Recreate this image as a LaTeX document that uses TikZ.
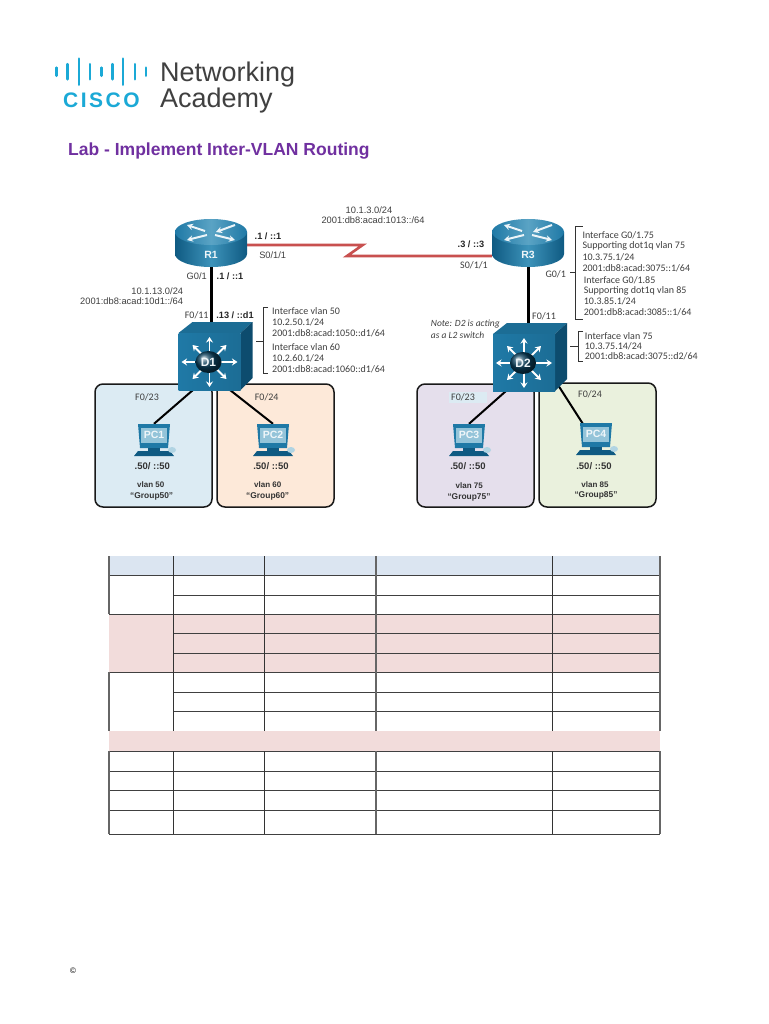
\documentclass[tikz,border=0pt]{standalone}
\usepackage{fontspec}
\usetikzlibrary{arrows.meta,shapes.geometric}
\setmainfont{Liberation Sans}
\newfontfamily\calfont{Carlito}
\newfontfamily\ciscofont{Liberation Sans}[LetterSpace=12]
\definecolor{tealb}{HTML}{1BA9D6}
\definecolor{titlep}{HTML}{7030A0}
\definecolor{txt}{HTML}{3F3F3F}
\definecolor{lnk}{HTML}{C8504F}
\definecolor{hdr}{HTML}{DBE5F1}
\definecolor{pnk}{HTML}{F2DCDB}
\definecolor{gl}{HTML}{666666}
\definecolor{boxA}{HTML}{DCEBF3}
\definecolor{boxB}{HTML}{FDE9D9}
\definecolor{boxC}{HTML}{E5DFEC}
\definecolor{boxD}{HTML}{EAF1DD}
\definecolor{ciscoD}{HTML}{0F5A82}
\definecolor{ciscoM}{HTML}{1F79A6}
\definecolor{ciscoL}{HTML}{3D93BA}
\tikzset{
  x=1pt,y=-1pt,
  note/.style={font=\calfont\fontsize{10}{10}\selectfont,text=txt,anchor=west,inner sep=0pt},
  small/.style={font=\fontsize{9.3}{10}\selectfont,text=txt,inner sep=0pt},
  port/.style={font=\calfont\fontsize{10}{10}\selectfont,text=txt,inner sep=0pt},
  addr/.style={font=\bfseries\fontsize{9.2}{10}\selectfont,text=black!85,inner sep=0pt},
  pcaddr/.style={font=\bfseries\fontsize{9.5}{10}\selectfont,text=black!80,inner sep=0pt},
  vl/.style={font=\bfseries\fontsize{8}{9}\selectfont,text=black!80,inner sep=0pt},
  grp/.style={font=\bfseries\fontsize{8.4}{9}\selectfont,text=black!80,inner sep=0pt},
  vbox/.style={draw=black!90,line width=1.5pt,rounded corners=8pt},
  wire/.style={draw=black,line width=2pt},
  uplink/.style={draw=black,line width=3pt},
  bracket/.style={draw=black!80,line width=.8pt},
  devlabel/.style={font=\bfseries\fontsize{10.5}{10}\selectfont,text=white!92!ciscoL,inner sep=0pt},
  rarrow/.style={white!90!ciscoL,line width=2pt,-{Stealth[length=6pt,width=6.5pt]}},
  sarrow/.style={white,line width=1.8pt,-{Stealth[length=5.5pt,width=7pt]}},
  rnode/.style={minimum width=72pt,minimum height=48pt,inner sep=0pt},
  snode/.style={minimum width=74pt,minimum height=68pt,inner sep=0pt},
  pcnode/.style={minimum width=42pt,minimum height=32pt,inner sep=0pt},
  router/.pic={
    \path[left color=ciscoD,right color=ciscoD,middle color=ciscoL]
      (-36,-11) -- (-36,11) arc[start angle=180,end angle=360,x radius=36,y radius=-13] -- (36,-11) -- cycle;
    \path[left color=ciscoM,right color=ciscoM,middle color=ciscoL!85!white]
      (0,-11) ellipse[x radius=36,y radius=13];
    \draw[rarrow] (-6,-12) -- (-24,-18);
    \draw[rarrow] (24,-18) -- (5,-11);
    \draw[rarrow] (-4,-8) -- (-24,-3);
    \draw[rarrow] (4,-8) -- (24,-3);
  },
  switchicon/.pic={
    \fill[ciscoM!90!black] (-31,-29) -- (-17,-40) -- (43,-40) -- (31,-29) -- cycle;
    \fill[ciscoD!85!black] (31,-29) -- (43,-40) -- (43,16) -- (31,28) -- cycle;
    \path[left color=ciscoM,right color=ciscoM!90!black] (-31,-29) rectangle (31,28);
    \foreach \a/\r in {0/28,45/24,90/25,135/24,180/28,225/24,270/25,315/24}{
      \draw[sarrow] (\a:10) -- (\a:\r);
    }
    \shade[ball color=ciscoD!70!black] (-1,0) ellipse[x radius=13,y radius=11];
  },
  pcicon/.pic={
    \fill[ciscoM] (-16,-16) -- (16,-16) -- (14,8) -- (-14,8) -- cycle;
    \fill[ciscoL!55!white] (-13,-12) rectangle (13,3);
    \fill[ciscoD] (-6,8) rectangle (6,11);
    \fill[ciscoD] (-16,11) -- (16,11) -- (20,16) -- (-20,16) -- cycle;
    \fill[ciscoL!40!white] (18,10) ellipse[x radius=4,y radius=3];
  }
}
\begin{document}
\begin{tikzpicture}
\path[fill=white,use as bounding box] (0,0) rectangle (768,1024);

% logo
\foreach \bx/\h in {56.7/4,67.7/7.5,79/13,90/7.5,101.7/4,112.7/7.5,123/13,135/7.5,146/4}{
  \draw[tealb,line width=2.8pt,line cap=round] (\bx,71.7-\h) -- (\bx,71.7+\h);
}
\node[anchor=base west,inner sep=0pt,text=tealb,font=\ciscofont\bfseries\fontsize{21}{21}\selectfont] (ciscow) at (63,108) {CISCO};
\node[anchor=base west,inner sep=0pt,text=black!75,font=\fontsize{27}{27}\selectfont] (netw) at (160,82) {Networking};
\node[anchor=base west,inner sep=0pt,text=black!75,font=\fontsize{27}{27}\selectfont] (acad) at (160,108) {Academy};
\node[anchor=base west,inner sep=0pt,text=titlep,font=\bfseries\fontsize{17.5}{18}\selectfont] (title) at (68,155.5) {Lab - Implement Inter-VLAN Routing};

% vlan boxes
\draw[vbox,fill=boxA] (95,384) rectangle (212,507);
\draw[vbox,fill=boxB] (217,384) rectangle (334,507);
\draw[vbox,fill=boxC] (417,384) rectangle (534,507);
\draw[vbox,fill=boxD] (539,383) rectangle (656,507);
\fill[boxA] (449,392) rectangle (487,403);

% devices (anchors)
\node[rnode] (R1) at (211,243) {};
\node[rnode] (R3) at (528,243) {};
\node[snode] (D1) at (216,356) {};
\node[snode] (D2) at (529,357) {};
\node[pcnode] (PC1) at (154,440) {};
\node[pcnode] (PC2) at (273,440) {};
\node[pcnode] (PC3) at (469,440) {};
\node[pcnode] (PC4) at (596,439) {};
\coordinate (s1) at (362.7,245);
\coordinate (s2) at (347,256);
\coordinate (d1a) at (193,390);
\coordinate (d1b) at (230,390);
\coordinate (d2a) at (506,391);
\coordinate (d2b) at (558,385);
\coordinate (pc4t) at (583,424);

% connectors
\draw[lnk,line width=2.6pt] (R1.east |- s1) -- (s1) -- (s2) -- (R3.west |- s2);
\draw[uplink] (R1.south) -- (R1.south |- D1.north);
\draw[uplink] (R3.south) -- (R3.south |- D2.north);
\draw[wire] (d1a) -- (PC1.north);
\draw[wire] (d1b) -- (PC2.north);
\draw[wire] (d2a) -- (PC3.north);
\draw[wire] (d2b) -- (pc4t);

% icons
\pic at (211,243) {router};
\pic at (528,243) {router};
\pic at (209.5,362) {switchicon};
\pic at (524,363) {switchicon};
\pic at (154,440) {pcicon};
\pic at (273,440) {pcicon};
\pic at (469,440) {pcicon};
\pic at (596,439) {pcicon};
\node[devlabel] (lR1) at (211,255) {R1};
\node[devlabel] (lR3) at (528,255) {R3};
\node[devlabel,font=\bfseries\fontsize{12}{12}\selectfont] (lD1) at (208.5,362) {D1};
\node[devlabel,font=\bfseries\fontsize{12}{12}\selectfont] (lD2) at (523,363) {D2};
\foreach \nm/\px/\py in {PC1/154/435,PC2/273/435,PC3/469/435,PC4/596/434}{
  \node[devlabel,font=\bfseries\fontsize{10.5}{10}\selectfont] (l\nm) at (\px,\py) {\nm};
}

% link labels
\node[small] (a1) at (369,210) {10.1.3.0/24};
\node[small] (a2) at (373,220.5) {2001:db8:acad:1013::/64};
\node[addr] (a3) at (268,236) {.1 / ::1};
\node[small] (a4) at (272.7,255) {S0/1/1};
\node[small] (a5) at (196.7,275.7) {G0/1};
\node[addr] (a6) at (230,276) {.1 / ::1};
\node[small,anchor=east] (a7) at (183.3,290.7) {10.1.13.0/24};
\node[small,anchor=east] (a8) at (183.3,301) {2001:db8:acad:10d1::/64};
\node[port] (a9) at (196.7,315) {F0/11};
\node[addr] (a10) at (235,315) {.13 / ::d1};
\node[addr] (a11) at (471,244) {.3 / ::3};
\node[port] (a12) at (474,265.7) {S0/1/1};
\node[port] (a13) at (555.7,274) {G0/1};
\node[port] (a14) at (544,316) {F0/11};
\node[inner sep=0pt,anchor=west,text=txt,font=\calfont\itshape\fontsize{9.5}{10}\selectfont] (n1) at (430.7,324) {Note: D2 is acting};
\node[inner sep=0pt,anchor=west,text=txt,font=\calfont\itshape\fontsize{9.5}{10}\selectfont] (n2) at (430.7,335) {as a L2 switch};

% brackets
\draw[bracket] (268,307) -- (263,307) -- (263,373) -- (268,373);
\draw[bracket] (256,341) -- (263,341);
\draw[bracket] (582.7,226) -- (575.7,226) -- (575.7,319) -- (582.7,319);
\draw[bracket] (570,272.7) -- (575.7,272.7);
\draw[bracket] (583,331.7) -- (578,331.7) -- (578,361.7) -- (583,361.7);
\draw[bracket] (570,346.7) -- (578,346.7);

% annotations
\node[note] (t1) at (272,311.3) {Interface vlan 50};
\node[note] (t2) at (272,322.7) {10.2.50.1/24};
\node[note] (t3) at (272,333.3) {2001:db8:acad:1050::d1/64};
\node[note] (t4) at (272,347.3) {Interface vlan 60};
\node[note] (t5) at (272,358.3) {10.2.60.1/24};
\node[note] (t6) at (272,369.3) {2001:db8:acad:1060::d1/64};
\node[note] (u1) at (582.3,235.3) {Interface G0/1.75};
\node[note] (u2) at (582.3,246) {Supporting dot1q vlan 75};
\node[note] (u3) at (582.3,257) {10.3.75.1/24};
\node[note] (u4) at (582.3,268) {2001:db8:acad:3075::1/64};
\node[note] (u5) at (583.7,280.3) {Interface G0/1.85};
\node[note] (u6) at (583.7,291) {Supporting dot1q vlan 85};
\node[note] (u7) at (583.7,301.7) {10.3.85.1/24};
\node[note] (u8) at (583.7,312.7) {2001:db8:acad:3085::1/64};
\node[note] (v1) at (584.7,335.7) {Interface vlan 75};
\node[note] (v2) at (584.7,346) {10.3.75.14/24};
\node[note] (v3) at (584.7,356.7) {2001:db8:acad:3075::d2/64};

% box labels
\node[port] (p1) at (147,397.7) {F0/23};
\node[port] (p2) at (266.7,397.7) {F0/24};
\node[port] (p3) at (463,397.7) {F0/23};
\node[port] (p4) at (590,394) {F0/24};
\node[pcaddr] (q1) at (152.3,466) {.50/ ::50};
\node[pcaddr] (q2) at (271,466) {.50/ ::50};
\node[pcaddr] (q3) at (468,466) {.50/ ::50};
\node[pcaddr] (q4) at (594,466) {.50/ ::50};
\node[vl] (w1) at (150.7,485) {vlan 50};
\node[vl] (w2) at (267.7,485) {vlan 60};
\node[vl] (w3) at (469.3,485.5) {vlan 75};
\node[vl] (w4) at (595,484.5) {vlan 85};
\node[grp] (g1) at (151.7,496) {“Group50”};
\node[grp] (g2) at (267.7,496) {“Group60”};
\node[grp] (g3) at (469,497) {“Group75”};
\node[grp] (g4) at (596,495.5) {“Group85”};

% table
\fill[hdr] (109,556) rectangle (660,575.5);
\fill[pnk] (109,614) rectangle (660,672);
\fill[pnk] (109,731) rectangle (660,751);
\foreach \yy in {575.5,614,672,751,771,790.7,810,834}{
  \draw[black!75,line width=.8pt] (109,\yy) -- (660,\yy);
}
\foreach \yy in {595,633.7,653,692,711.7}{
  \draw[black!75,line width=.8pt] (173,\yy) -- (660,\yy);
}
\foreach \xx/\cc/\ww in {173/black!80/.8,264/black!80/.8,376/gl/1.1,552/black!80/.8}{
  \draw[\cc,line width=\ww pt] (\xx,556) -- (\xx,731);
  \draw[\cc,line width=\ww pt] (\xx,751) -- (\xx,834);
}
\foreach \xx in {109,660}{
  \draw[gl,line width=1.1pt] (\xx,556) -- (\xx,614);
  \draw[gl,line width=1.1pt] (\xx,672) -- (\xx,731);
  \draw[gl,line width=1.1pt] (\xx,751) -- (\xx,834);
}
\draw[gl,line width=1.1pt] (660,614) -- (660,672);

\node[inner sep=0pt,text=black,font=\fontsize{8}{8}\selectfont] (copy) at (73,971) {©};
\end{tikzpicture}
\end{document}
